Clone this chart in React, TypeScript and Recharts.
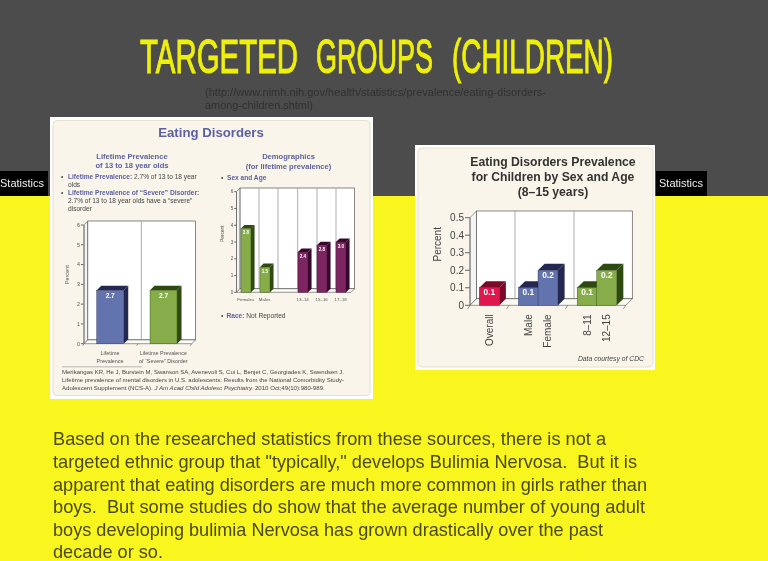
import React from "react";
import { BarChart, Bar, XAxis, YAxis, LabelList } from "recharts";

// lifetime prevalence, left chart
const lifetimeLabels = ["Lifetime\nPrevalence", "Lifetime Prevalence\nof \u201cSevere\u201d Disorder"];
const lifetimeValues = [2.7, 2.7];
const lifetimeTicks = [0, 1, 2, 3, 4, 5, 6];

// demographics, middle chart
const demoLabels = ["Females", "Males", " ", "13\u201314", "15\u201316", "17\u201318"];
const demoValues = [3.8, 1.5, null, 2.4, 2.8, 3.0];
const demoTicks = [0, 1, 2, 3, 4, 5, 6];

// children 8-15, right chart
const childLabels = ["Overall", " ", "Male", "Female", "  ", "8\u201311", "12\u201315"];
const childValues = [0.1, null, 0.1, 0.2, null, 0.1, 0.2];
const childTicks = [0, 0.1, 0.2, 0.3, 0.4, 0.5];

const BLUE = { front: "#6273ad", dark: "#24274f" };
const GREEN = { front: "#86ad49", dark: "#2f4a10" };
const PURPLE = { front: "#7d2560", dark: "#36082c" };
const RED = { front: "#e0164e", dark: "#7a0a28" };

const lifetimeTones = [BLUE, GREEN];
const demoTones = [GREEN, GREEN, GREEN, PURPLE, PURPLE, PURPLE];
const childTones = [RED, RED, BLUE, BLUE, BLUE, GREEN, GREEN];

const SANS = "'Liberation Sans', Arial, sans-serif";

const titleWords = [
  ["TARGETED", 140, 158],
  ["GROUPS", 316, 117],
  ["(CHILDREN)", 452, 161],
] as const;

const paragraph = [
  ["Based on the researched statistics from these sources, there is not a", 553],
  ["targeted ethnic group that \"typically,\" develops Bulimia Nervosa.  But it is", 584],
  ["apparent that eating disorders are much more common in girls rather than", 594],
  ["boys.  But some studies do show that the average number of young adult", 592],
  ["boys developing bulimia Nervosa has grown drastically over the past", 550],
  ["decade or so.", 110],
] as const;

const citation = [
  "Merikangas KR, He J, Burstein M, Swanson SA, Avenevoli S, Cui L, Benjet C, Georgiades K, Swendsen J.",
  "Lifetime prevalence of mental disorders in U.S. adolescents: Results from the National Comorbidity Study-",
];

const toTable = (labels: string[], values: (number | null)[]) =>
  labels.map((name, i) => ({ name, value: values[i] }));

const Bar3D = (props: any) => {
  const { x, y, width, height, depth, tone } = props;
  if (!height || height <= 0) return null;
  const r = x + width;
  const b = y + height;
  return (
    <g>
      <polygon points={`${x},${y} ${x + depth},${y - depth} ${r + depth},${y - depth} ${r},${y}`} fill={tone.dark} />
      <polygon points={`${r},${y} ${r + depth},${y - depth} ${r + depth},${b - depth} ${r},${b}`} fill={tone.dark} />
      <rect x={x} y={y} width={width} height={height} fill={tone.front} stroke={tone.dark} strokeWidth={0.4} />
    </g>
  );
};

// the white box behind the bars, in chart pixels
const Wall = ({ left, right, top, floor, depth, dividers, floorTicks }: any) => (
  <g>
    <polygon
      points={`${left},${top + depth} ${left + depth},${top} ${left + depth},${floor - depth} ${left},${floor}`}
      fill="#f4f4f2"
      stroke="#555"
      strokeWidth={0.6}
    />
    <rect x={left + depth} y={top} width={right - left} height={floor - depth - top} fill="#fff" stroke="#555" strokeWidth={0.7} />
    {dividers.map((d: number) => (
      <line key={d} x1={d} x2={d} y1={top} y2={floor - depth} stroke="#a4a4a4" strokeWidth={0.9} />
    ))}
    <polygon
      points={`${left},${floor} ${left + depth},${floor - depth} ${right + depth},${floor - depth} ${right},${floor}`}
      fill="#fbfbf6"
      stroke="#555"
      strokeWidth={0.6}
    />
    <line x1={left} x2={left} y1={top + depth} y2={floor} stroke="#666" strokeWidth={0.7} />
    {floorTicks.map((d: number) => (
      <line key={d} x1={d} x2={d - depth * 0.35} y1={floor} y2={floor + depth * 0.55} stroke="#555" strokeWidth={0.6} />
    ))}
  </g>
);

const SplitTick = (props: any) => {
  const { x, y, payload, fontSize, firstGap, lineGap } = props;
  return (
    <text x={x} y={y} textAnchor="middle" fontSize={fontSize} fill="#555" fontFamily={SANS}>
      {String(payload.value)
        .split("\n")
        .map((line, i) => (
          <tspan key={i} x={x} dy={i === 0 ? firstGap : lineGap}>
            {line}
          </tspan>
        ))}
    </text>
  );
};

const RotatedTick = (props: any) => {
  const { x, y, payload } = props;
  return (
    <text
      x={x + 3.6}
      y={y + 1}
      transform={`rotate(-90 ${x + 3.6} ${y + 1})`}
      textAnchor="end"
      fontSize={10}
      fill="#444"
      fontFamily={SANS}
    >
      {payload.value}
    </text>
  );
};

const oneDecimal = (v: any) => (v == null ? "" : Number(v).toFixed(1));

const LifetimeChart = () => (
  <BarChart
    width={160}
    height={170}
    data={toTable(lifetimeLabels, lifetimeValues)}
    margin={{ top: 15, right: 20, bottom: 0, left: 0 }}
    barCategoryGap="25%"
    style={{ position: "absolute", left: 50, top: 210 }}
  >
    <Wall left={34} right={141.7} top={11} floor={133.7} depth={3.8} dividers={[91.3]} floorTicks={[34, 88, 141.7]} />
    <XAxis
      dataKey="name"
      interval={0}
      height={36.3}
      axisLine={false}
      tickLine={false}
      tick={<SplitTick fontSize={5.4} firstGap={3.6} lineGap={7.2} />}
    />
    <YAxis
      width={33.4}
      domain={[0, 6]}
      ticks={lifetimeTicks}
      axisLine={false}
      tickSize={2.5}
      tickMargin={1}
      tick={{ fontSize: 5.4, fill: "#555", fontFamily: SANS }}
      label={{ value: "Percent", angle: -90, position: "insideLeft", offset: 17.5, fontSize: 5.6, fill: "#555", fontFamily: SANS }}
    />
    <Bar
      dataKey="value"
      isAnimationActive={false}
      shape={(p: any) => <Bar3D {...p} depth={4.5} tone={lifetimeTones[lifetimeLabels.indexOf(p.payload.name)]} />}
    >
      <LabelList dataKey="value" position="insideTop" offset={3} fill="#fff" fontSize={6.6} fontWeight="bold" fontFamily={SANS} formatter={oneDecimal} />
    </Bar>
  </BarChart>
);

const DemoChart = () => (
  <BarChart
    width={155}
    height={125}
    data={toTable(demoLabels, demoValues)}
    margin={{ top: 11.7, right: 14.8, bottom: 0, left: 0 }}
    barCategoryGap="25%"
    style={{ position: "absolute", left: 210, top: 180 }}
  >
    <Wall left={26.5} right={141} top={8} floor={112.3} depth={3.6} dividers={[49, 68, 87.7, 107, 126]} floorTicks={[]} />
    <XAxis
      dataKey="name"
      interval={0}
      height={12.7}
      axisLine={false}
      tickLine={false}
      tick={<SplitTick fontSize={4.4} firstGap={1} lineGap={6} />}
    />
    <YAxis
      width={26.2}
      domain={[0, 6]}
      ticks={demoTicks}
      axisLine={false}
      tickSize={2}
      tickMargin={1}
      tick={{ fontSize: 4.6, fill: "#555", fontFamily: SANS }}
      label={{ value: "Percent", angle: -90, position: "insideLeft", offset: 12, fontSize: 4.8, fill: "#555", fontFamily: SANS }}
    />
    <Bar
      dataKey="value"
      isAnimationActive={false}
      shape={(p: any) => <Bar3D {...p} depth={3.6} tone={demoTones[demoLabels.indexOf(p.payload.name)]} />}
    >
      <LabelList dataKey="value" position="insideTop" offset={2.5} fill="#fff" fontSize={4.6} fontWeight="bold" fontFamily={SANS} formatter={oneDecimal} />
    </Bar>
  </BarChart>
);

const ChildChart = () => (
  <BarChart
    width={230}
    height={160}
    data={toTable(childLabels, childValues)}
    margin={{ top: 17.7, right: 24.3, bottom: 0, left: 0 }}
    barCategoryGap={0}
    style={{ position: "absolute", left: 420, top: 200 }}
  >
    <Wall left={50} right={205.7} top={11} floor={105.3} depth={6.6} dividers={[95, 154]} floorTicks={[50, 89, 147.7, 205.7]} />
    <XAxis
      dataKey="name"
      interval={0}
      height={54.7}
      axisLine={false}
      tickLine={false}
      padding={{ left: 9.3, right: 9.4 }}
      tick={<RotatedTick />}
    />
    <YAxis
      width={50}
      domain={[0, 0.5]}
      ticks={childTicks}
      axisLine={false}
      tickSize={5}
      tickMargin={1}
      tick={{ fontSize: 10, fill: "#444", fontFamily: SANS }}
      label={{ value: "Percent", angle: -90, position: "insideLeft", offset: 17, fontSize: 10, fill: "#444", fontFamily: SANS }}
    />
    <Bar
      dataKey="value"
      isAnimationActive={false}
      shape={(p: any) => <Bar3D {...p} depth={6.6} tone={childTones[childLabels.indexOf(p.payload.name)]} />}
    >
      <LabelList dataKey="value" position="insideTop" offset={1.5} fill="#fff" fontSize={8.4} fontWeight="bold" fontFamily={SANS} formatter={oneDecimal} />
    </Bar>
  </BarChart>
);

const Slide = () => (
  <svg width={768} height={561} style={{ position: "absolute", left: 0, top: 0 }} fontFamily={SANS}>
    <rect width={768} height={196} fill="#4c4c4c" />
    <rect y={196} width={768} height={365} fill="#f9f51e" />

    <g
      fontSize={49}
      fontFamily="'Liberation Sans Narrow', 'Liberation Sans', sans-serif"
      fill="#eef00a"
      stroke="#eef00a"
      strokeWidth={1.1}
    >
      {titleWords.map(([word, x, len]) => (
        <text key={word} x={x} y={72.5} textLength={len} lengthAdjust="spacingAndGlyphs">
          {word}
        </text>
      ))}
    </g>
    <g fontSize={11.2} fill="#303030">
      <text x={205} y={96} textLength={341} lengthAdjust="spacingAndGlyphs">
        (http://www.nimh.nih.gov/health/statistics/prevalence/eating-disorders-
      </text>
      <text x={205} y={109} textLength={108} lengthAdjust="spacingAndGlyphs">
        among-children.shtml)
      </text>
    </g>

    <rect x={0} y={171} width={48} height={25} fill="#000" />
    <rect x={656} y={171} width={51} height={25} fill="#000" />
    <text x={0} y={187} fontSize={11} fill="#eee">Statistics</text>
    <text x={659} y={187} fontSize={11} fill="#eee">Statistics</text>

    {/* left card */}
    <rect x={50} y={117} width={323} height={282} fill="#fff" />
    <rect x={53} y={120.5} width={317} height={275} rx={4} fill="#faf5ea" stroke="#e8dfcc" />
    <text x={211} y={137} textAnchor="middle" fontSize={13.2} fontWeight="bold" fill="#5c61a0">Eating Disorders</text>
    <g fontSize={7.6} fontWeight="bold" fill="#5c61a0" textAnchor="middle">
      <text x={132} y={158.5}>Lifetime Prevalence</text>
      <text x={132} y={168}>of 13 to 18 year olds</text>
      <text x={288.5} y={158.5}>Demographics</text>
      <text x={288.5} y={168.5}>(for lifetime prevalence)</text>
    </g>
    <g fontSize={6.6} fill="#444">
      <text x={61} y={178.5}>{"\u2022"}</text>
      <text x={68} y={178.5}>
        <tspan fontWeight="bold" fill="#5c61a0">Lifetime Prevalence:</tspan> 2.7% of 13 to 18 year
      </text>
      <text x={68} y={186.7}>olds</text>
      <text x={61} y={194.7}>{"\u2022"}</text>
      <text x={68} y={194.7} fontWeight="bold" fill="#5c61a0">{"Lifetime Prevalence of \u201cSevere\u201d Disorder:"}</text>
      <text x={68} y={203}>{"2.7% of 13 to 18 year olds have a \u201csevere\u201d"}</text>
      <text x={68} y={211.3}>disorder</text>
      <text x={221} y={180}>{"\u2022"}</text>
      <text x={227} y={180} fontWeight="bold" fill="#5c61a0">Sex and Age</text>
      <text x={221} y={317.5}>{"\u2022"}</text>
      <text x={226.5} y={317.5}>
        <tspan fontWeight="bold" fill="#5c61a0">Race:</tspan> Not Reported
      </text>
    </g>
    <line x1={62} x2={142} y1={366.8} y2={366.8} stroke="#999" strokeWidth={0.7} />
    <g fontSize={6.1} fill="#444">
      <text x={62} y={374.2} textLength={282} lengthAdjust="spacingAndGlyphs">{citation[0]}</text>
      <text x={62} y={382} textLength={282} lengthAdjust="spacingAndGlyphs">{citation[1]}</text>
      <text x={62} y={389.8}>
        Adolescent Supplement (NCS-A). <tspan fontStyle="italic">J Am Acad Child Adolesc Psychiatry.</tspan> 2010 Oct;49(10):980-989.
      </text>
    </g>

    {/* right card */}
    <rect x={415} y={145} width={240} height={225} fill="#fff" />
    <rect x={418} y={148} width={235} height={219} rx={4} fill="#faf5ea" stroke="#e8dfcc" />
    <g fontSize={12.2} fontWeight="bold" fill="#333" textAnchor="middle">
      <text x={553} y={165.5}>Eating Disorders Prevalence</text>
      <text x={553} y={180.5}>for Children by Sex and Age</text>
      <text x={553} y={195.5}>(8{"\u2013"}15 years)</text>
    </g>
    <text x={644} y={361} textAnchor="end" fontSize={6.8} fontStyle="italic" fill="#444">Data courtesy of CDC</text>

    <g fontSize={18.2} fill="#4a4a12">
      {paragraph.map(([line, len], i) => (
        <text key={i} x={53} y={445.3 + i * 22.6} textLength={len} lengthAdjust="spacingAndGlyphs" xmlSpace="preserve">
          {line}
        </text>
      ))}
    </g>
  </svg>
);

const App = () => (
  <div style={{ position: "fixed", left: 0, top: 0, width: 768, height: 561, overflow: "hidden", filter: "blur(0.35px)" }}>
    <Slide />
    <LifetimeChart />
    <DemoChart />
    <ChildChart />
  </div>
);

export default App;
